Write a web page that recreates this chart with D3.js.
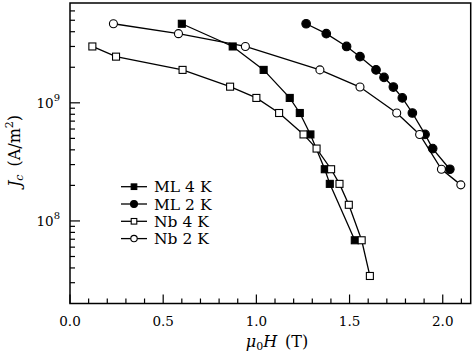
<!DOCTYPE html>
<html><head><meta charset="utf-8">
<script src="https://cdn.jsdelivr.net/npm/d3@7"></script>
<style>body{margin:0;background:#fff;} svg{display:block;} text{font-family:"DejaVu Serif","Liberation Serif",serif;fill:#000;}</style>
</head><body>
<script>
const seriesNames = ["ML 4 K", "ML 2 K", "Nb 4 K", "Nb 2 K"];
const ml4x = [0.60, 0.873, 1.039, 1.179, 1.233, 1.29, 1.367, 1.394, 1.528];
const ml4y = [4.67e9, 3.0e9, 1.9e9, 1.1e9, 8.2e8, 5.4e8, 2.74e8, 2.06e8, 6.86e7];
const ml2x = [1.267, 1.375, 1.484, 1.556, 1.642, 1.685, 1.735, 1.783, 1.837, 1.905, 1.946, 2.038];
const ml2y = [4.67e9, 3.85e9, 3.0e9, 2.46e9, 1.9e9, 1.64e9, 1.36e9, 1.1e9, 8.2e8, 5.4e8, 4.1e8, 2.74e8];
const nb4x = [0.12, 0.247, 0.604, 0.859, 1.0, 1.122, 1.253, 1.323, 1.401, 1.446, 1.496, 1.565, 1.609];
const nb4y = [3.0e9, 2.46e9, 1.9e9, 1.37e9, 1.1e9, 8.2e8, 5.4e8, 4.1e8, 2.74e8, 2.06e8, 1.37e8, 6.86e7, 3.42e7];
const nb2x = [0.233, 0.582, 0.941, 1.341, 1.556, 1.753, 1.876, 1.993, 2.097];
const nb2y = [4.67e9, 3.85e9, 3.0e9, 1.9e9, 1.36e9, 8.2e8, 5.4e8, 2.74e8, 2.02e8];
const xTicks = [0.0, 0.5, 1.0, 1.5, 2.0];
const yTickExps = [8, 9];

const W = 474, H = 357;
const m = {left: 70, right: 3.3, top: 3, bottom: 53.5};
const svg = d3.select("body").append("svg").attr("width", W).attr("height", H);
const x = d3.scaleLinear().domain([0, 2.15]).range([m.left, W - m.right]);
const y = d3.scaleLog().domain([2e7, 7e9]).range([H - m.bottom, m.top]);

// frame
svg.append("rect").attr("x", x(0)).attr("y", y(7e9)).attr("width", x(2.15) - x(0)).attr("height", y(2e7) - y(7e9))
  .attr("fill", "none").attr("stroke", "#000").attr("stroke-width", 1.5);

// x ticks
const xMinor = d3.range(1, 22).map(i => i / 10).filter(v => Math.abs(v * 2 - Math.round(v * 2)) > 1e-6);
const gx = svg.append("g");
xMinor.forEach(v => gx.append("line").attr("x1", x(v)).attr("x2", x(v)).attr("y1", y(2e7)).attr("y2", y(2e7) - 5).attr("stroke", "#000").attr("stroke-width", 1.2));
xTicks.forEach(v => {
  gx.append("line").attr("x1", x(v)).attr("x2", x(v)).attr("y1", y(2e7)).attr("y2", y(2e7) - 9).attr("stroke", "#000").attr("stroke-width", 1.2);
  gx.append("text").attr("x", x(v)).attr("y", y(2e7) + 22.5).attr("text-anchor", "middle").attr("font-size", 13.5).text(v.toFixed(1));
});

// y ticks
const yMinor = [];
[7, 8, 9].forEach(e => { for (let k = 2; k <= 9; k++) { const v = k * Math.pow(10, e); if (v > 2e7 && v < 7e9) yMinor.push(v); } });
const gy = svg.append("g");
yMinor.forEach(v => gy.append("line").attr("x1", x(0)).attr("x2", x(0) + 5).attr("y1", y(v)).attr("y2", y(v)).attr("stroke", "#000").attr("stroke-width", 1.2));
yTickExps.forEach(e => {
  const v = Math.pow(10, e);
  gy.append("line").attr("x1", x(0)).attr("x2", x(0) + 10).attr("y1", y(v)).attr("y2", y(v)).attr("stroke", "#000").attr("stroke-width", 1.2);
  const t = gy.append("text").attr("x", x(0) - 10).attr("y", y(v) + 5).attr("text-anchor", "end").attr("font-size", 13.5);
  t.append("tspan").text("10");
  t.append("tspan").attr("dy", -6.5).attr("font-size", 10).text(e);
});

// axis titles
const xt = svg.append("text").attr("x", 277).attr("y", 347).attr("text-anchor", "middle").attr("font-size", 16);
xt.append("tspan").attr("font-style", "italic").text("μ");
xt.append("tspan").attr("font-size", 11).attr("dy", 3).text("0");
xt.append("tspan").attr("font-style", "italic").attr("dy", -3).text("H");
xt.append("tspan").text("\u2002(T)");

const yt = svg.append("text").attr("transform", "translate(20,151) rotate(-90)").attr("text-anchor", "middle").attr("font-size", 16);
yt.append("tspan").attr("font-style", "italic").text("J");
yt.append("tspan").attr("font-style", "italic").attr("font-size", 11).attr("dy", 3).text("c");
yt.append("tspan").attr("dy", -3).text("\u2002(A/m");
yt.append("tspan").attr("font-size", 11).attr("dy", -7).text("2");
yt.append("tspan").attr("dy", 7).text(")");

// series
const series = [
  {name: seriesNames[0], xs: ml4x, ys: ml4y, shape: "square", fill: "#000"},
  {name: seriesNames[1], xs: ml2x, ys: ml2y, shape: "circle", fill: "#000"},
  {name: seriesNames[2], xs: nb4x, ys: nb4y, shape: "square", fill: "#fff"},
  {name: seriesNames[3], xs: nb2x, ys: nb2y, shape: "circle", fill: "#fff"}
];
const line = d3.line().x(d => x(d[0])).y(d => y(d[1]));
function marker(g, cx, cy, s, k) {
  if (s.shape === "square") {
    const h = 3.5 * k;
    g.append("rect").attr("x", cx - h).attr("y", cy - h).attr("width", 2 * h).attr("height", 2 * h)
      .attr("fill", s.fill).attr("stroke", "#000").attr("stroke-width", 1.1);
  } else {
    g.append("circle").attr("cx", cx).attr("cy", cy).attr("r", (s.fill === "#000" ? 4.3 : 4) * k)
      .attr("fill", s.fill).attr("stroke", "#000").attr("stroke-width", 1.1);
  }
}
series.forEach(s => {
  const pts = s.xs.map((v, i) => [v, s.ys[i]]);
  const g = svg.append("g");
  g.append("path").attr("d", line(pts)).attr("fill", "none").attr("stroke", "#000").attr("stroke-width", 1.3);
  pts.forEach(p => marker(g, x(p[0]), y(p[1]), s, 1));
});

// legend
const lg = svg.append("g");
series.forEach((s, i) => {
  const ly = 186.7 + i * 17.3;
  lg.append("line").attr("x1", 121).attr("x2", 147).attr("y1", ly).attr("y2", ly).attr("stroke", "#000").attr("stroke-width", 1.3);
  marker(lg, 134, ly, s, 0.8);
  lg.append("text").attr("x", 154).attr("y", ly + 5.5).attr("font-size", 15.5).text(s.name);
});
</script>
</body></html>
